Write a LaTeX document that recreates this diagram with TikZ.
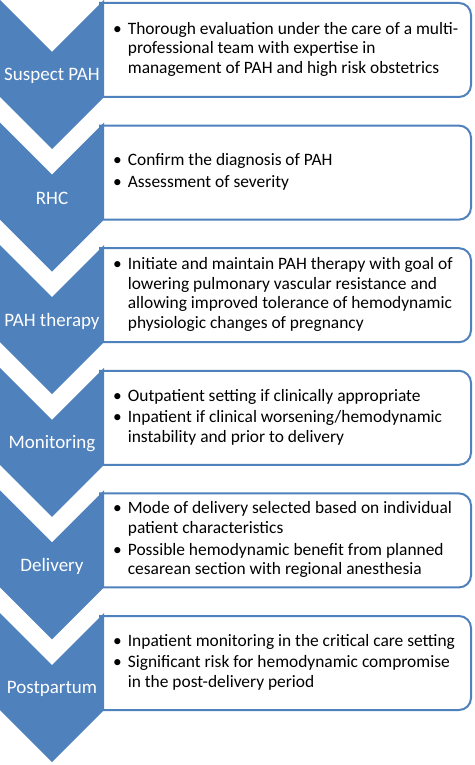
\documentclass[tikz,border=0pt]{standalone}
\usepackage{fontspec}
\setmainfont{Carlito}
\usepackage{tikz}
\usepackage{xcolor}
\definecolor{chevblue}{HTML}{4F81BD}

\begin{document}
\begin{tikzpicture}[x=1pt,y=1pt,yscale=-1,xscale=1,
  chev/.style={fill=chevblue,draw=none},
  panel/.style={draw=chevblue,line width=2pt,fill=white},
  steplabel/.style={text=white,inner sep=0.75pt,font=\fontsize{19}{22}\selectfont},
  bultext/.style={anchor=west,inner sep=0pt,align=left,font=\fontsize{17.4}{19.6}\selectfont}]
\useasboundingbox (0,0) rectangle (474,765);

\draw[panel] (100,3) [rounded corners=12] -- (471,3) -- (471,97) [sharp corners] -- (100,97) -- cycle ;
\draw[chev] (0,0) -- (52,52) -- (104,0) -- (104,97) -- (52,149) -- (0,97) -- cycle ;

\draw[panel] (100,125.6) [rounded corners=12] -- (471,125.6) -- (471,219.6) [sharp corners] -- (100,219.6) -- cycle ;
\draw[chev] (0,122.6) -- (52,174.6) -- (104,122.6) -- (104,219.6) -- (52,271.6) -- (0,219.6) -- cycle ;

\draw[panel] (100,248.2) [rounded corners=12] -- (471,248.2) -- (471,342.2) [sharp corners] -- (100,342.2) -- cycle ;
\draw[chev] (0,245.2) -- (52,297.2) -- (104,245.2) -- (104,342.2) -- (52,394.2) -- (0,342.2) -- cycle ;

\draw[panel] (100,370.8) [rounded corners=12] -- (471,370.8) -- (471,464.8) [sharp corners] -- (100,464.8) -- cycle ;
\draw[chev] (0,367.8) -- (52,419.8) -- (104,367.8) -- (104,464.8) -- (52,516.8) -- (0,464.8) -- cycle ;

\draw[panel] (100,493.4) [rounded corners=12] -- (471,493.4) -- (471,587.4) [sharp corners] -- (100,587.4) -- cycle ;
\draw[chev] (0,490.4) -- (52,542.4) -- (104,490.4) -- (104,587.4) -- (52,639.4) -- (0,587.4) -- cycle ;

\draw[panel] (100,616) [rounded corners=12] -- (471,616) -- (471,710) [sharp corners] -- (100,710) -- cycle ;
\draw[chev] (0,613) -- (52,665) -- (104,613) -- (104,710) -- (52,762) -- (0,710) -- cycle ;

% step names
\node[steplabel] (suspect) at (52,76) {Suspect PAH};
\node[steplabel] (rhc) at (52,198.6) {RHC};
\node[steplabel] (therapy) at (52,321.2) {PAH therapy};
\node[steplabel] (monitor) at (52,443.8) {Monitoring};
\node[steplabel] (deliv) at (52,566.4) {Delivery};
\node[steplabel] (postp) at (52,689) {Postpartum};

% bullet texts
\node[bultext] (txtsuspect) at (113,50) {\begin{tabular}{@{}l@{\hspace{6pt}}l@{}}
\textbullet & Thorough evaluation under the care of a multi-\\
 & professional team with expertise in\\
 & management of PAH and high risk obstetrics
\end{tabular}};
\node[bultext] (txtrhc) at (113,172.6) {\begin{tabular}{@{}l@{\hspace{6pt}}l@{}}
\textbullet & Confirm the diagnosis of PAH\\[2pt]
\textbullet & Assessment of severity
\end{tabular}};
\node[bultext] (txttherapy) at (113,295.2) {\begin{tabular}{@{}l@{\hspace{6pt}}l@{}}
\textbullet & Initiate and maintain PAH therapy with goal of\\
 & lowering pulmonary vascular resistance and\\
 & allowing improved tolerance of hemodynamic\\
 & physiologic changes of pregnancy
\end{tabular}};
\node[bultext] (txtmonitor) at (113,417.8) {\begin{tabular}{@{}l@{\hspace{6pt}}l@{}}
\textbullet & Outpatient setting if clinically appropriate\\[2pt]
\textbullet & Inpatient if clinical worsening/hemodynamic\\
 & instability and prior to delivery
\end{tabular}};
\node[bultext] (txtdeliv) at (113,540.4) {\begin{tabular}{@{}l@{\hspace{6pt}}l@{}}
\textbullet & Mode of delivery selected based on individual\\
 & patient characteristics\\[2pt]
\textbullet & Possible hemodynamic benefit from planned\\
 & cesarean section with regional anesthesia
\end{tabular}};
\node[bultext] (txtpostp) at (113,663) {\begin{tabular}{@{}l@{\hspace{6pt}}l@{}}
\textbullet & Inpatient monitoring in the critical care setting\\[2pt]
\textbullet & Significant risk for hemodynamic compromise\\
 & in the post-delivery period
\end{tabular}};
\end{tikzpicture}
\end{document}
